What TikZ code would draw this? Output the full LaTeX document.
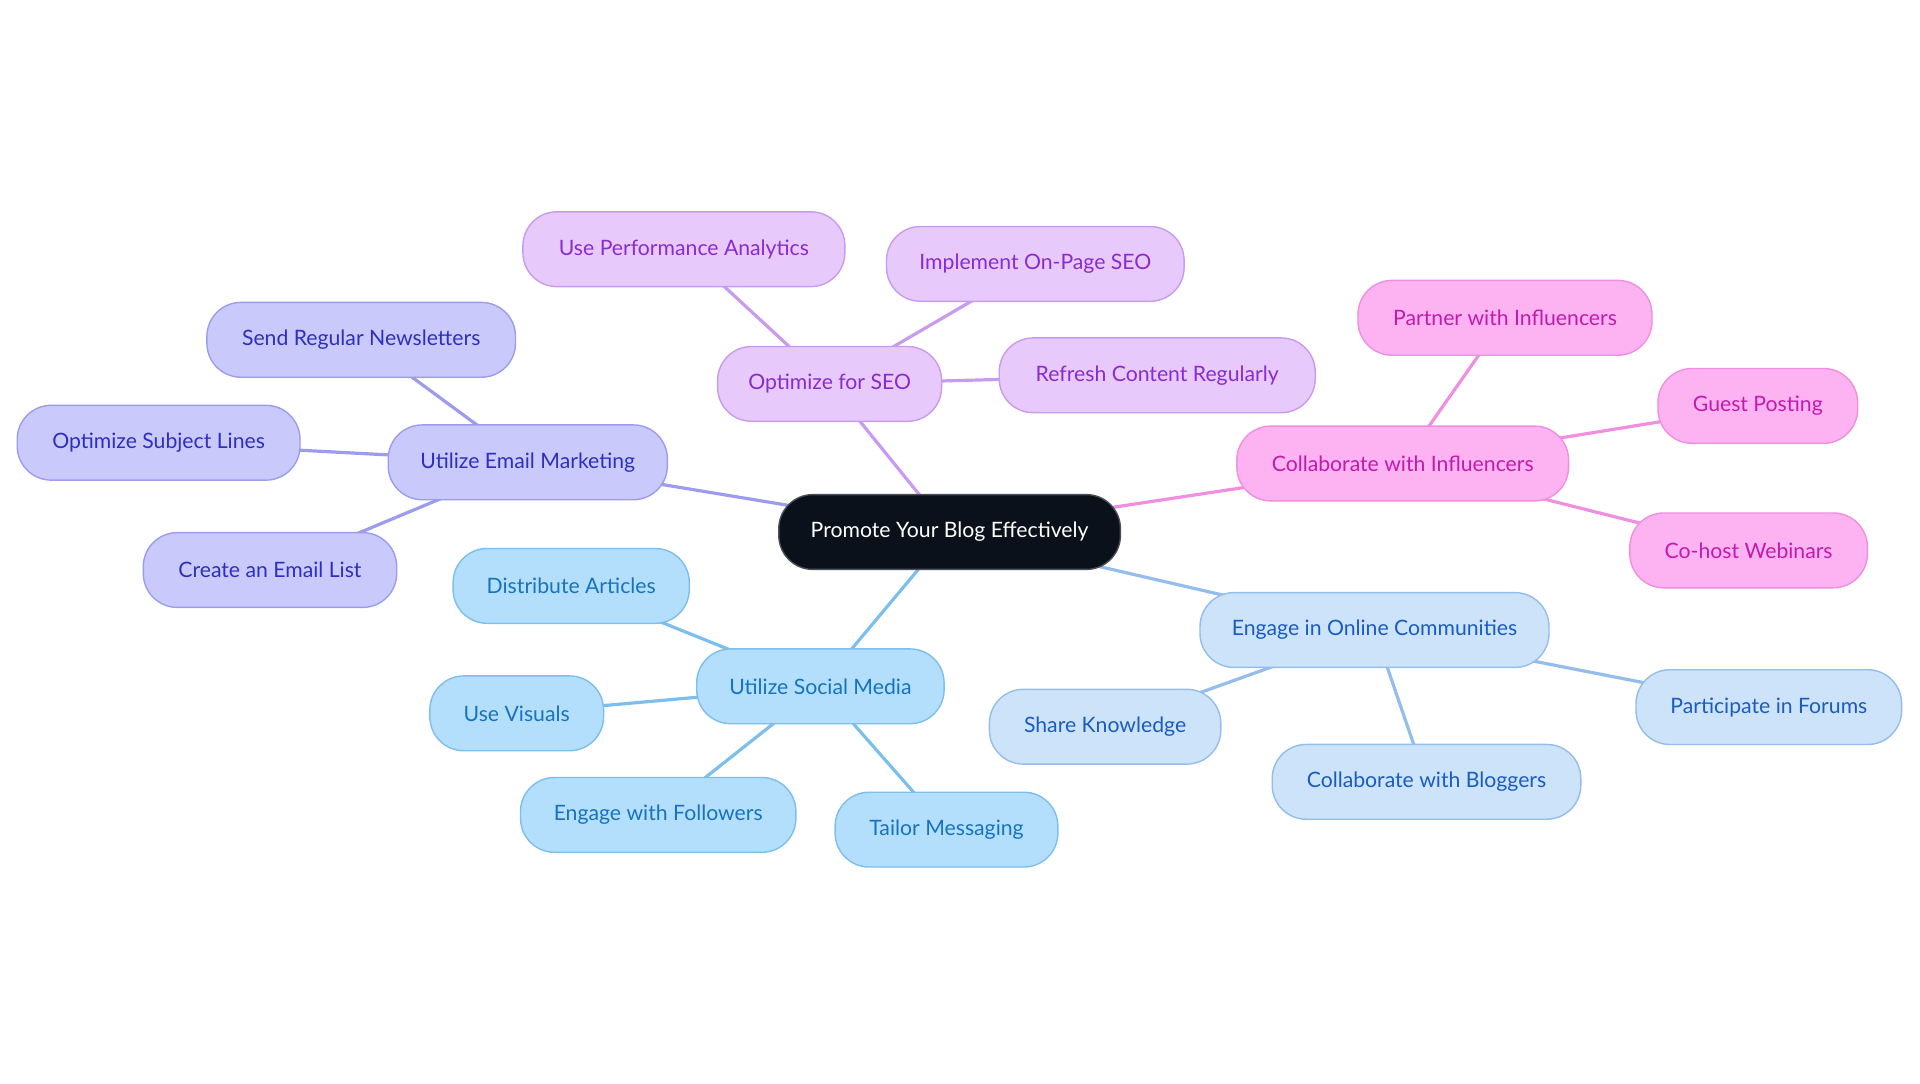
\documentclass[tikz,border=0pt]{standalone}
\usepackage{fontspec}
\setmainfont{Lato}
\definecolor{blogNavy}{HTML}{0B111A}
\definecolor{blogNavyLine}{HTML}{4A4F57}
\definecolor{seoFill}{HTML}{E7C9FB}
\definecolor{seoLine}{HTML}{C89BF0}
\definecolor{seoText}{HTML}{8A2BD0}
\definecolor{influFill}{HTML}{FDB3F2}
\definecolor{influLine}{HTML}{F08EDF}
\definecolor{influText}{HTML}{C21AAD}
\definecolor{commFill}{HTML}{CDE3FA}
\definecolor{commLine}{HTML}{94BDEC}
\definecolor{commText}{HTML}{1A5CC0}
\definecolor{socialFill}{HTML}{B4DFFC}
\definecolor{socialLine}{HTML}{7CBEEC}
\definecolor{socialText}{HTML}{1673BF}
\definecolor{mailFill}{HTML}{C9CAFB}
\definecolor{mailLine}{HTML}{9B9CEE}
\definecolor{mailText}{HTML}{2E2FC0}
\usetikzlibrary{backgrounds}
\tikzset{
	pill/.style={
		rounded corners=17pt,
		minimum height=37.4pt,
		align=center,
		inner sep=0pt,
		line width=0.7pt,
		font=\fontsize{10.6}{12}\selectfont
	},
	core/.style={
		pill,
		draw=blogNavyLine,
		fill=blogNavy,
		text=white
	},
	seoBox/.style={pill, draw=seoLine, fill=seoFill, text=seoText},
	influBox/.style={pill, draw=influLine, fill=influFill, text=influText},
	commBox/.style={pill, draw=commLine, fill=commFill, text=commText},
	socialBox/.style={pill, draw=socialLine, fill=socialFill, text=socialText},
	mailBox/.style={pill, draw=mailLine, fill=mailFill, text=mailText},
	enlace/.style={line width=1.6pt, draw=#1}
}

\begin{document}
\begin{tikzpicture}[x=0.5pt, y=-0.5pt]
	\useasboundingbox (0,0) rectangle (1920,1083);
	% centro
	\node[core, minimum width=170.8pt] (hub) at (949.6,532) {Promote Your Blog Effectively};
	% SEO
	\node[seoBox, minimum width=112pt] (seo) at (829.6,383.9) {Optimize for SEO};
	\node[seoBox, minimum width=161pt] (analytics) at (683.9,249.2) {Use Performance Analytics};
	\node[seoBox, minimum width=148.8pt] (onpage) at (1035.3,263.9) {Implement On-Page SEO};
	\node[seoBox, minimum width=158pt] (refresh) at (1157.2,375.3) {Refresh Content Regularly};
	% influencers
	\node[influBox, minimum width=165.9pt] (influ) at (1402.7,463.5) {Collaborate with Influencers};
	\node[influBox, minimum width=147pt] (partner) at (1505,317.8) {Partner with Influencers};
	\node[influBox, minimum width=99.8pt] (guest) at (1757.8,405.9) {Guest Posting};
	\node[influBox, minimum width=118.8pt] (webinar) at (1748.6,550.4) {Co-host Webinars};
	% comunidades
	\node[commBox, minimum width=174.5pt] (comm) at (1374.5,630) {Engage in Online Communities};
	\node[commBox, minimum width=115.7pt] (share) at (1105.1,726.7) {Share Knowledge};
	\node[commBox, minimum width=154.3pt] (bloggers) at (1426.5,781.8) {Collaborate with Bloggers};
	\node[commBox, minimum width=132.8pt] (forums) at (1768.8,707.1) {Participate in Forums};
	% redes sociales
	\node[socialBox, minimum width=123.7pt] (social) at (820.4,686.3) {Utilize Social Media};
	\node[socialBox, minimum width=118.1pt] (articles) at (571.2,585.9) {Distribute Articles};
	\node[socialBox, minimum width=86.9pt] (visuals) at (516.7,713.3) {Use Visuals};
	\node[socialBox, minimum width=137.7pt] (followers) at (658.2,814.9) {Engage with Followers};
	\node[socialBox, minimum width=111.4pt] (tailor) at (946.5,829.6) {Tailor Messaging};
	% correo
	\node[mailBox, minimum width=139.6pt] (mail) at (527.8,462.3) {Utilize Email Marketing};
	\node[mailBox, minimum width=154.3pt] (news) at (361.2,339.8) {Send Regular Newsletters};
	\node[mailBox, minimum width=141.4pt] (subject) at (158.6,442.7) {Optimize Subject Lines};
	\node[mailBox, minimum width=126.7pt] (list) at (270,570) {Create an Email List};
	% enlaces
	\begin{scope}[on background layer]
		\draw[enlace=seoLine] (hub.center) -- (seo.center);
		\foreach \hoja in {analytics,onpage,refresh}
			\draw[enlace=seoLine] (seo.center) -- (\hoja.center);
		\draw[enlace=influLine] (hub.center) -- (influ.center);
		\foreach \hoja in {partner,guest,webinar}
			\draw[enlace=influLine] (influ.center) -- (\hoja.center);
		\draw[enlace=commLine] (hub.center) -- (comm.center);
		\foreach \hoja in {share,bloggers,forums}
			\draw[enlace=commLine] (comm.center) -- (\hoja.center);
		\draw[enlace=socialLine] (hub.center) -- (social.center);
		\foreach \hoja in {articles,visuals,followers,tailor}
			\draw[enlace=socialLine] (social.center) -- (\hoja.center);
		\draw[enlace=mailLine] (hub.center) -- (mail.center);
		\foreach \hoja in {news,subject,list}
			\draw[enlace=mailLine] (mail.center) -- (\hoja.center);
	\end{scope}
\end{tikzpicture}
\end{document}
